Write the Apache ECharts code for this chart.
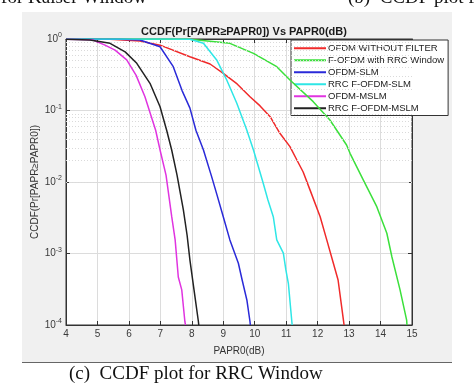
<!DOCTYPE html>
<html>
<head>
<meta charset="utf-8">
<script src="https://cdn.jsdelivr.net/npm/echarts@6/dist/echarts.min.js"></script>
<style>
html,body{margin:0;padding:0;background:#fff;}
#chart{width:474px;height:385px;}
</style>
</head>
<body>
<div id="chart"></div>
<script>
// ---- data ----
var seriesNames = ['OFDM WITHOUT FILTER', 'F-OFDM with RRC Window', 'OFDM-SLM', 'RRC F-OFDM-SLM', 'OFDM-MSLM', 'RRC F-OFDM-MSLM'];
var xTicks = [4, 5, 6, 7, 8, 9, 10, 11, 12, 13, 14, 15];
var yTicks = [0.0001, 0.001, 0.01, 0.1, 1];

var ofdmX = [4, 5.40, 6.35, 6.99, 7.94, 8.58, 9.00, 9.44, 9.85, 10.17, 10.49, 10.80, 11.12, 11.34, 11.54, 11.76, 12.08, 12.29, 12.50, 12.65, 12.82, 12.84];
var ofdmY = [1.0, 0.99, 0.94, 0.82, 0.565, 0.447, 0.331, 0.235, 0.156, 0.116, 0.0819, 0.048, 0.0312, 0.0203, 0.0138, 0.0077, 0.00327, 0.00155, 0.00073, 0.000426, 0.000117, 0.0001];

var fofdmX = [4, 7.94, 9.21, 9.96, 10.70, 11.12, 11.86, 12.39, 12.92, 13.03, 13.45, 13.88, 14.20, 14.36, 14.62, 14.83, 14.84];
var fofdmY = [1.0, 0.99, 0.87, 0.63, 0.41, 0.267, 0.133, 0.0736, 0.0329, 0.0252, 0.0107, 0.00452, 0.00192, 0.00090, 0.00031, 0.000117, 0.0001];

var slmX = [4, 5.72, 6.35, 6.99, 7.41, 7.69, 7.94, 8.13, 8.37, 8.63, 8.80, 9.00, 9.21, 9.48, 9.60, 9.75, 9.85, 9.86];
var slmY = [1.0, 0.99, 0.97, 0.78, 0.41, 0.19, 0.108, 0.053, 0.028, 0.0119, 0.0066, 0.00327, 0.00155, 0.00073, 0.000426, 0.000224, 0.000111, 0.0001];

var rrcSlmX = [4, 7.31, 7.94, 8.37, 8.79, 9.11, 9.43, 9.75, 9.96, 10.10, 10.27, 10.42, 10.59, 10.70, 10.91, 10.99, 11.07, 11.18, 11.19];
var rrcSlmY = [1.0, 1.0, 0.99, 0.87, 0.51, 0.267, 0.126, 0.053, 0.028, 0.0173, 0.0096, 0.0056, 0.00327, 0.00155, 0.00101, 0.00059, 0.00038, 0.000111, 0.0001];

var mslmX = [4, 4.45, 4.86, 5.24, 5.56, 5.93, 6.23, 6.51, 6.85, 6.99, 7.18, 7.36, 7.47, 7.57, 7.68, 7.78, 7.80];
var mslmY = [0.99, 0.985, 0.97, 0.82, 0.70, 0.51, 0.31, 0.156, 0.053, 0.028, 0.0125, 0.0033, 0.00155, 0.00047, 0.00031, 0.000111, 0.0001];

var rrcMslmX = [4, 4.76, 5.40, 5.88, 6.25, 6.67, 6.99, 7.20, 7.36, 7.53, 7.73, 7.85, 7.94, 8.07, 8.21, 8.22];
var rrcMslmY = [0.995, 0.97, 0.87, 0.66, 0.457, 0.24, 0.113, 0.053, 0.028, 0.0125, 0.0041, 0.0018, 0.00081, 0.00031, 0.000111, 0.0001];

var colors = ['#f02a2a', '#3be03b', '#2a2ad8', '#2ee6e6', '#e034e0', '#222222'];

// ---- build ----
function pairs(xs, ys) { return xs.map(function (x, i) { return [x, ys[i]]; }); }
var allX = [ofdmX, fofdmX, slmX, rrcSlmX, mslmX, rrcMslmX];
var allY = [ofdmY, fofdmY, slmY, rrcSlmY, mslmY, rrcMslmY];

// minor log grid positions (2..9 per decade)
var minorLines = [];
for (var d = -4; d < 0; d++) {
  for (var m = 2; m <= 9; m++) minorLines.push({ yAxis: m * Math.pow(10, d) });
}

var series = seriesNames.map(function (n, i) {
  return {
    name: n, type: 'line', data: pairs(allX[i], allY[i]),
    symbol: 'none', smooth: false, z: 3 + i,
    lineStyle: { color: colors[i], width: 1.5 },
    itemStyle: { color: colors[i] }
  };
});
series.unshift({
  name: '_minor', type: 'line', data: [], silent: true, z: 1,
  markLine: {
    silent: true, symbol: 'none', label: { show: false },
    lineStyle: { color: '#dadada', type: [1, 2], width: 1 },
    data: minorLines, animation: false
  }
});

function supLabel(v) {
  var e = Math.round(Math.log10(v));
  return '{b|10}{s|' + e + '}';
}
var labelRich = {
  b: { fontSize: 10, color: '#3a3a3a', fontFamily: 'Liberation Sans, Arial' },
  s: { fontSize: 7, color: '#3a3a3a', fontFamily: 'Liberation Sans, Arial', padding: [0, 0, 7, 0] }
};

var chart = echarts.init(document.getElementById('chart'), null, { renderer: 'canvas' });
chart.setOption({
  backgroundColor: '#ffffff',
  animation: false,
  color: colors,
  graphic: [
    { type: 'rect', z: -10, shape: { x: 22, y: 12, width: 430, height: 350 }, style: { fill: '#f0f0f0' } },
    { type: 'line', z: -9, shape: { x1: 22, y1: 362.5, x2: 452, y2: 362.5 }, style: { stroke: '#666', lineWidth: 1.2 } },
    { type: 'text', z: 10, style: { text: '(c)  CCDF plot for RRC Window', x: 69, y: 374, textVerticalAlign: 'middle', font: '19px "Liberation Serif", "Times New Roman", serif', fill: '#111' } },
    { type: 'text', z: 10, style: { text: '(a)  CCDF plot for Kaiser Window', x: 147, y: -2, textAlign: 'right', textVerticalAlign: 'middle', font: '19px "Liberation Serif", "Times New Roman", serif', fill: '#111' } },
    { type: 'text', z: 10, style: { text: '(b)  CCDF plot for Hamming Window', x: 348, y: -2, textVerticalAlign: 'middle', font: '19px "Liberation Serif", "Times New Roman", serif', fill: '#111' } }
  ],
  title: {
    text: 'CCDF(Pr[PAPR\u2265PAPR0]) Vs PAPR0(dB)',
    left: 239, top: 21, textAlign: 'center',
    textStyle: { fontSize: 11, fontWeight: 'bold', color: '#1a1a1a', fontFamily: 'Liberation Sans, Arial' }
  },
  legend: {
    data: seriesNames,
    orient: 'vertical', left: 291, top: 40,
    icon: 'rect',
    backgroundColor: '#ffffff', borderColor: '#333', borderWidth: 1,
    padding: [3, 4, 2, 3], itemWidth: 32, itemHeight: 2, itemGap: 1.5,
    textStyle: { fontSize: 9.5, color: '#222', fontFamily: 'Liberation Sans, Arial', padding: [0, 0, 0, -3], lineHeight: 10.5 }
  },
  grid: { left: 66, right: 62, top: 39, bottom: 60, show: true, backgroundColor: '#fff', borderColor: '#333', borderWidth: 1 },
  xAxis: [{
    type: 'value', min: 4, max: 15, interval: 1,
    name: 'PAPR0(dB)', nameLocation: 'middle', nameGap: 21,
    nameTextStyle: { fontSize: 10, color: '#333', fontFamily: 'Liberation Sans, Arial' },
    axisLine: { show: true, lineStyle: { color: '#333' } },
    axisTick: { show: true, inside: true, length: 4, lineStyle: { color: '#333' } },
    axisLabel: { fontSize: 10, color: '#3a3a3a', margin: 4, fontFamily: 'Liberation Sans, Arial',
      formatter: function (v) { return xTicks.indexOf(v) >= 0 ? String(v) : ''; } },
    splitLine: { show: true, lineStyle: { color: '#dcdcdc', width: 1 } }
  }, {
    type: 'value', min: 4, max: 15, interval: 1, position: 'top',
    axisLine: { show: true, lineStyle: { color: '#333' } },
    axisTick: { show: true, inside: true, length: 4, lineStyle: { color: '#333' } },
    axisLabel: { show: false }, splitLine: { show: false }
  }],
  yAxis: [{
    type: 'log', logBase: 10, min: yTicks[0], max: yTicks[yTicks.length - 1],
    name: 'CCDF(Pr[PAPR\u2265PAPR0])', nameLocation: 'middle', nameGap: 26, nameRotate: 90,
    nameMoveOverlap: false,
    nameTextStyle: { fontSize: 10, color: '#333', fontFamily: 'Liberation Sans, Arial' },
    axisLine: { show: true, lineStyle: { color: '#333' } },
    axisTick: { show: true, inside: true, length: 4, lineStyle: { color: '#333' } },
    axisLabel: { formatter: supLabel, rich: labelRich, margin: 4 },
    splitLine: { show: true, lineStyle: { color: '#dcdcdc', width: 1 } }
  }, {
    type: 'log', logBase: 10, min: yTicks[0], max: yTicks[yTicks.length - 1], position: 'right',
    axisLine: { show: true, lineStyle: { color: '#333' } },
    axisTick: { show: true, inside: true, length: 4, lineStyle: { color: '#333' } },
    axisLabel: { show: false }, splitLine: { show: false }
  }],
  series: series
});
</script>
</body>
</html>
